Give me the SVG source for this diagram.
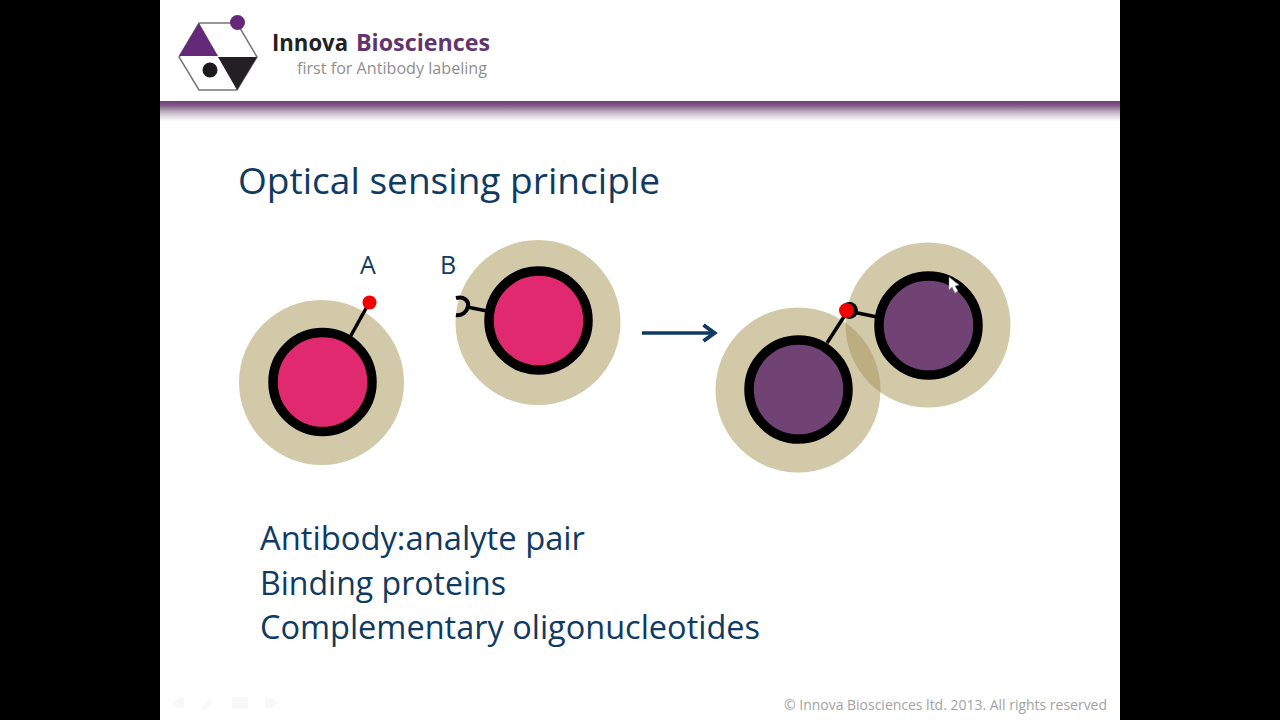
<svg xmlns="http://www.w3.org/2000/svg" width="1280" height="720" viewBox="0 0 1280 720">
<style>
.halo{fill:#d2c9a9}
.core{stroke:#000;stroke-width:9.5}
.pink{fill:#e0296f}
.purple{fill:#714375}
.lnk{stroke:#000;stroke-width:3.5;fill:none}
.ag{fill:#f00000}
.t{font-family:"Open Sans","Noto Sans",sans-serif;fill:#0f3a63}
.lab{font-size:25px}
.logo{font-family:"Open Sans",sans-serif;font-size:22.500px;font-weight:700}
</style>
<defs>
<linearGradient id="band" x1="0" y1="0" x2="0" y2="1">
<stop offset="0" stop-color="#6f3c75"/><stop offset="0.2" stop-color="#7d5683"/><stop offset="0.6" stop-color="#c9bccb"/><stop offset="1" stop-color="#ffffff"/>
</linearGradient>
<clipPath id="ov"><circle cx="798" cy="390" r="82.500"/></clipPath>
</defs>
<rect width="1280" height="720" fill="#000"/>
<rect x="160" width="960" height="720" fill="#fff"/>
<rect x="160" y="101" width="960" height="20" fill="url(#band)"/>
<g id="logo">
<path d="M199 23H237L257 57L237 90H199L179 57Z" fill="none" stroke="#77757a" stroke-width="1.500"/>
<path d="M199 23L179 56H218Z" fill="#642a77"/>
<path d="M218 57H257L237 90Z" fill="#222022"/>
<circle cx="237.500" cy="22.500" r="7.500" fill="#642a77"/>
<circle cx="210" cy="70" r="7.500" fill="#1c1a1c"/>
<text class="logo" x="272" y="51" fill="#222" textLength="76" lengthAdjust="spacingAndGlyphs">Innova</text>
<text class="logo" x="356" y="51" fill="#62356f" textLength="134" lengthAdjust="spacingAndGlyphs">Biosciences</text>
<text x="297" y="74" font-family="'Open Sans',sans-serif" font-size="15.500" fill="#8f8f8f" textLength="190" lengthAdjust="spacingAndGlyphs">first for Antibody labeling</text>
</g>
<text id="title" class="t" x="238" y="194" font-size="36" textLength="422" lengthAdjust="spacingAndGlyphs">Optical sensing principle</text>
<g id="particle-a">
<circle class="halo" cx="321.500" cy="382.500" r="82.500"/>
<circle class="core pink" cx="322.500" cy="382" r="49.500"/>
<line class="lnk" x1="349" y1="339" x2="369" y2="303"/>
<circle class="ag" cx="369.500" cy="302.500" r="7"/>
<text class="t lab" x="360" y="274">A</text>
</g>
<g id="particle-b">
<circle class="halo" cx="538" cy="322.500" r="82.500"/>
<circle class="core pink" cx="538.500" cy="320.500" r="49.500"/>
<line class="lnk" x1="487" y1="311" x2="467" y2="307"/>
<path d="M456 298C464 296 469 301 468 306C467 312 462 316 456 315" fill="none" stroke="#000" stroke-width="4"/>
<text class="t lab" x="440" y="274">B</text>
</g>
<g id="arrow">
<line x1="642" y1="333" x2="713" y2="333" stroke="#0f3a63" stroke-width="3.500"/>
<path d="M703.500 325L714.500 333L703.500 341" fill="none" stroke="#0f3a63" stroke-width="4"/>
</g>
<g id="complex">
<circle class="halo" cx="798" cy="390" r="82.500"/>
<circle class="halo" cx="928" cy="325" r="82.500"/>
<circle cx="928" cy="325" r="82.500" fill="#bcae80" clip-path="url(#ov)"/>
<circle class="core purple" cx="798.500" cy="389.500" r="49.500"/>
<circle class="core purple" cx="928.500" cy="325.500" r="49.500"/>
<line class="lnk" x1="827" y1="343" x2="847" y2="312"/>
<line class="lnk" x1="877" y1="317" x2="853" y2="312"/>
<circle cx="849.500" cy="310.500" r="8.500" fill="#000"/>
<circle class="ag" cx="846.500" cy="310.500" r="7.500"/>
</g>
<path id="cursor" d="M949 277L949 290L952 287L955 293L958 291L955 286L959 285Z" fill="#fff" stroke="#8a8a8a" stroke-width="0.500"/>
<g id="list" class="t" style="font-size:33px">
<text x="260" y="550" textLength="325" lengthAdjust="spacingAndGlyphs">Antibody:analyte pair</text>
<text x="260" y="595" textLength="246" lengthAdjust="spacingAndGlyphs">Binding proteins</text>
<text x="260" y="639" textLength="500" lengthAdjust="spacingAndGlyphs">Complementary oligonucleotides</text>
</g>
<g id="controls" fill="#f8f8f8">
<path d="M172 703L178 698H184V708H178Z"/>
<path d="M201 708L210 699L213 702L205 710Z"/>
<rect x="232" y="697" width="16" height="12"/>
<path d="M265 698H272L278 703L272 708H265Z"/>
</g>
<text id="copyright" x="784" y="710" font-family="'Open Sans',sans-serif" font-size="14" fill="#a3a3a3" textLength="323" lengthAdjust="spacingAndGlyphs">© Innova Biosciences ltd. 2013. All rights reserved</text>
</svg>
